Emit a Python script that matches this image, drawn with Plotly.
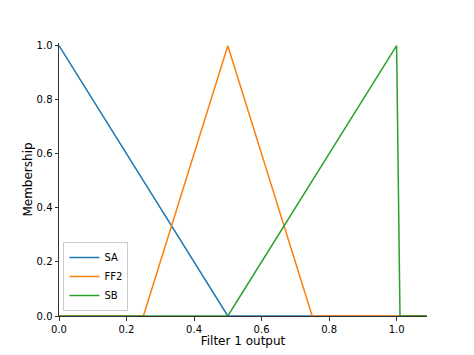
import plotly.graph_objects as go

# Data: breakpoints of membership functions
sa_x = [0.0, 0.5, 1.09]
sa_y = [1.0, 0.0, 0.0]
ff2_x = [0.0, 0.25, 0.5, 0.75, 1.09]
ff2_y = [0.0, 0.0, 1.0, 0.0, 0.0]
sb_x = [0.0, 0.5, 1.0, 1.01, 1.09]
sb_y = [0.0, 0.0, 1.0, 0.0, 0.0]
x_ticks = [0.0, 0.2, 0.4, 0.6, 0.8, 1.0]
y_ticks = [0.0, 0.2, 0.4, 0.6, 0.8, 1.0]

series = [("SA", sa_x, sa_y, "#1f77b4"),
          ("FF2", ff2_x, ff2_y, "#ff7f0e"),
          ("SB", sb_x, sb_y, "#2ca02c")]

fig = go.Figure()
for name, xs, ys, c in series:
    fig.add_trace(go.Scatter(x=xs, y=ys, mode="lines", name=name,
                             line=dict(color=c, width=1.5)))

font = dict(family="DejaVu Sans", size=10, color="#000000")
fig.update_layout(
    width=474, height=355,
    margin=dict(l=51, r=55, t=35, b=47, autoexpand=False),
    paper_bgcolor="white", plot_bgcolor="white",
    font=font,
    showlegend=True,
    legend=dict(x=0.012, y=0.018, xanchor="left", yanchor="bottom",
                bordercolor="#cccccc", borderwidth=1, bgcolor="rgba(255,255,255,0.8)",
                font=dict(family="DejaVu Sans", size=10), itemwidth=30,
                tracegroupgap=0),
    xaxis=dict(range=[0, 1.09], tickvals=x_ticks,
               ticktext=[f"{v:.1f}" for v in x_ticks],
               showgrid=False, zeroline=False, showline=True, linecolor="#333333",
               linewidth=1, ticks="outside", ticklen=3.5, tickcolor="#333333",
               automargin=False,
               title=dict(text="Filter 1 output", standoff=3), mirror=False),
    yaxis=dict(range=[0, 1.01], tickvals=y_ticks,
               ticktext=[f"{v:.1f}" for v in y_ticks],
               showgrid=False, zeroline=False, showline=True, linecolor="#333333",
               linewidth=1, ticks="outside", ticklen=3.5, tickcolor="#333333",
               automargin=False,
               title=dict(text="Membership", standoff=1), mirror=False),
)
fig.write_html("out.html")
